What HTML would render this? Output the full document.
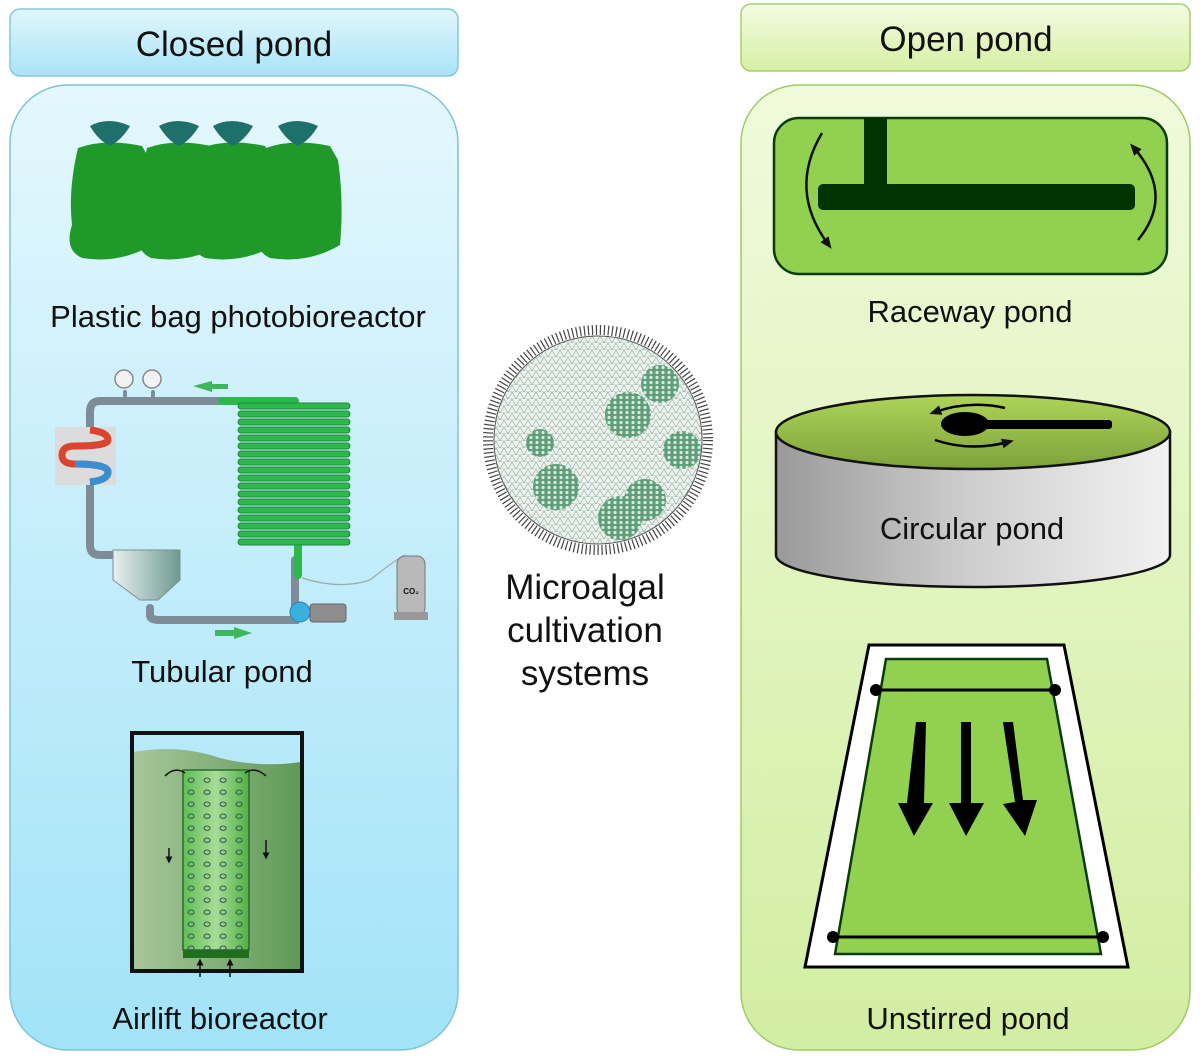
<!DOCTYPE html>
<html><head><meta charset="utf-8"><style>
html,body{margin:0;padding:0;background:#fff}
svg{display:block}
text{font-family:"Liberation Sans",sans-serif;fill:#111}
</style></head><body>
<svg width="1200" height="1061" viewBox="0 0 1200 1061" xmlns="http://www.w3.org/2000/svg">
<defs>
<linearGradient id="bh" x1="0" y1="0" x2="0" y2="1"><stop offset="0" stop-color="#e2f6fc"/><stop offset="1" stop-color="#a9e4f6"/></linearGradient>
<linearGradient id="bp" x1="0" y1="0" x2="0" y2="1"><stop offset="0" stop-color="#e4f7fd"/><stop offset="1" stop-color="#a2e3f8"/></linearGradient>
<linearGradient id="gh" x1="0" y1="0" x2="0" y2="1"><stop offset="0" stop-color="#f4fbe2"/><stop offset="1" stop-color="#d6f0a4"/></linearGradient>
<linearGradient id="gp" x1="0" y1="0" x2="0" y2="1"><stop offset="0" stop-color="#f0fadc"/><stop offset="1" stop-color="#d2eea2"/></linearGradient>
<linearGradient id="cyl" x1="0" y1="0" x2="1" y2="0"><stop offset="0" stop-color="#9a9a9a"/><stop offset="0.5" stop-color="#cfcfcf"/><stop offset="1" stop-color="#f2f2f2"/></linearGradient>
<linearGradient id="top" x1="0" y1="0" x2="0" y2="1"><stop offset="0" stop-color="#aed45a"/><stop offset="1" stop-color="#7ea23a"/></linearGradient>
<linearGradient id="air" x1="0" y1="0" x2="1" y2="0"><stop offset="0" stop-color="#a8c69a"/><stop offset="1" stop-color="#5e9a56"/></linearGradient>
<linearGradient id="riser" x1="0" y1="0" x2="1" y2="0"><stop offset="0" stop-color="#5fbf55"/><stop offset="0.5" stop-color="#a8dc96"/><stop offset="1" stop-color="#4fb045"/></linearGradient>
<linearGradient id="tank" x1="0" y1="0" x2="1" y2="0"><stop offset="0" stop-color="#e8f0ee"/><stop offset="1" stop-color="#6e9a92"/></linearGradient>
<pattern id="cells" width="8" height="7" patternUnits="userSpaceOnUse"><rect width="8" height="7" fill="#eef2ef"/><path d="M0 0 L4 7 L8 0 M0 7 L8 7" stroke="#8aa89a" stroke-width="0.6" fill="none"/></pattern>
<pattern id="cells2" width="6" height="5" patternUnits="userSpaceOnUse"><rect width="6" height="5" fill="#5f9e7a"/><circle cx="3" cy="2.5" r="1.6" fill="#d8eadc"/></pattern>
<marker id="ah" markerWidth="12" markerHeight="12" refX="6" refY="6" orient="auto" markerUnits="userSpaceOnUse"><path d="M0 1 L12 6 L0 11 Z" fill="#111"/></marker>
<marker id="as" markerWidth="7" markerHeight="7" refX="3.5" refY="3.5" orient="auto" markerUnits="userSpaceOnUse"><path d="M0 0 L7 3.5 L0 7 Z" fill="#111"/></marker>
</defs>

<!-- Left -->
<rect x="10" y="9" width="448" height="67" rx="10" fill="url(#bh)" stroke="#86c8d8" stroke-width="1.5"/>
<text x="234" y="56" font-size="35" text-anchor="middle">Closed pond</text>
<rect x="10" y="85" width="448" height="965" rx="58" fill="url(#bp)" stroke="#7ec3d6" stroke-width="1.5"/>

<!-- bags -->
<g>
<g id="bag">
<path d="M78 148 Q105 138 142 146 L150 160 Q156 200 152 245 Q120 264 82 258 Q64 250 72 225 Q68 190 78 148 Z" fill="#1f9a2a"/>
<path d="M90 126 Q108 116 130 126 Q122 140 110 146 Q98 140 90 126 Z" fill="#1f6f6a"/>
</g>
<use href="#bag" x="69"/>
<use href="#bag" x="123"/>
<use href="#bag" x="188"/>
</g>
<text x="238" y="327" font-size="31" text-anchor="middle">Plastic bag photobioreactor</text>

<!-- tubular -->
<g fill="none" stroke-linecap="round">
<path d="M222 401 L100 401 Q90 401 90 412 L90 430" stroke="#7d8c96" stroke-width="8"/>
<path d="M90 480 L90 545 Q90 555 100 555 L115 555" stroke="#7d8c96" stroke-width="8"/>
<path d="M150 608 L150 615 Q150 620 160 620 L295 620 L295 560" stroke="#7d8c96" stroke-width="8"/>
<path d="M222 401 L295 401" stroke="#2db84d" stroke-width="8"/>
<path d="M298 545 L298 575" stroke="#2db84d" stroke-width="8"/>
<path d="M125 392 L125 401 M153 392 L153 401" stroke="#7d8c96" stroke-width="4"/>
</g>
<circle cx="124" cy="379" r="9" fill="#f2f2f2" stroke="#888" stroke-width="1.5"/>
<circle cx="152" cy="379" r="9" fill="#f2f2f2" stroke="#888" stroke-width="1.5"/>
<path d="M193 386 L212 381 L212 384 L228 384 L228 389 L212 389 L212 392 Z" fill="#3cb85a"/>
<path d="M215 630 L234 630 L234 627 L252 633 L234 639 L234 636 L215 636 Z" fill="#3cb85a"/>
<rect x="55" y="427" width="61" height="58" fill="#dcdcdc"/>
<path d="M90 430 Q108 432 108 440 Q108 446 75 446 Q62 446 62 455 Q62 464 75 464 Q108 464 108 472 Q108 480 90 482" fill="none" stroke="#d9452e" stroke-width="7"/>
<path d="M75 464 Q108 464 108 472 Q108 480 90 482" fill="none" stroke="#3a8fd0" stroke-width="7"/>
<path d="M113 550 L180 550 L180 580 L158 600 L140 600 L113 580 Z" fill="url(#tank)" stroke="#7d8c96"/>
<g fill="#2db84d" stroke="#1b8a35" stroke-width="1">
<rect x="238" y="403" width="112" height="6" rx="3"/><rect x="238" y="411" width="112" height="6" rx="3"/><rect x="238" y="419" width="112" height="6" rx="3"/><rect x="238" y="427" width="112" height="6" rx="3"/><rect x="238" y="435" width="112" height="6" rx="3"/><rect x="238" y="443" width="112" height="6" rx="3"/><rect x="238" y="451" width="112" height="6" rx="3"/><rect x="238" y="459" width="112" height="6" rx="3"/><rect x="238" y="467" width="112" height="6" rx="3"/><rect x="238" y="475" width="112" height="6" rx="3"/><rect x="238" y="483" width="112" height="6" rx="3"/><rect x="238" y="491" width="112" height="6" rx="3"/><rect x="238" y="499" width="112" height="6" rx="3"/><rect x="238" y="507" width="112" height="6" rx="3"/><rect x="238" y="515" width="112" height="6" rx="3"/><rect x="238" y="523" width="112" height="6" rx="3"/><rect x="238" y="531" width="112" height="6" rx="3"/><rect x="238" y="539" width="112" height="6" rx="3"/>
</g>
<circle cx="300" cy="612" r="10" fill="#3ab0e0" stroke="#2a7fb0"/>
<rect x="310" y="604" width="36" height="18" rx="3" fill="#8d8d8d" stroke="#666"/>
<path d="M302 578 Q340 590 370 580 Q395 560 405 555" fill="none" stroke="#9aa" stroke-width="1.2"/>
<rect x="397" y="556" width="28" height="60" rx="8" fill="#b9b9b9" stroke="#777"/>
<rect x="394" y="612" width="34" height="8" fill="#999"/>
<text x="411" y="594" font-size="8" text-anchor="middle" font-weight="bold">CO₂</text>
<text x="222" y="682" font-size="31" text-anchor="middle">Tubular pond</text>

<!-- airlift -->
<path d="M133 752 Q180 744 220 758 Q260 768 301 762 L301 970 L133 970 Z" fill="url(#air)"/>
<rect x="183" y="770" width="66" height="180" fill="url(#riser)" stroke="#2c6a2c" stroke-width="1.5"/>
<rect x="183" y="950" width="66" height="8" fill="#1f6f1f"/>
<g fill="none" stroke="#355" stroke-width="1">
<path id="row" d="M191 778 a3 2.2 0 1 0 0.1 0 M207 778 a3 2.2 0 1 0 0.1 0 M223 778 a3 2.2 0 1 0 0.1 0 M239 778 a3 2.2 0 1 0 0.1 0"/>
<use href="#row" y="12"/><use href="#row" y="24"/><use href="#row" y="36"/><use href="#row" y="48"/><use href="#row" y="60"/><use href="#row" y="72"/><use href="#row" y="84"/><use href="#row" y="96"/><use href="#row" y="108"/><use href="#row" y="120"/><use href="#row" y="132"/><use href="#row" y="144"/><use href="#row" y="156"/><use href="#row" y="168"/>
</g>
<g stroke="#111" stroke-width="1.5" fill="none">
<path d="M169 848 L169 860" marker-end="url(#as)"/><path d="M266 840 L266 856" marker-end="url(#as)"/>
<path d="M200 977 L200 962" marker-end="url(#as)"/><path d="M230 977 L230 962" marker-end="url(#as)"/>
<path d="M185 773 Q175 766 165 776"/><path d="M245 773 Q255 766 266 776"/>
</g>
<rect x="132" y="733" width="170" height="238" fill="none" stroke="#111" stroke-width="4"/>
<text x="220" y="1029" font-size="31" text-anchor="middle">Airlift bioreactor</text>

<!-- center -->
<circle cx="598" cy="440" r="110" fill="none" stroke="#444" stroke-width="10" stroke-dasharray="1.2 2.8"/>
<circle cx="598" cy="440" r="104" fill="url(#cells)" stroke="#555" stroke-width="1"/>
<g fill="url(#cells2)">
<circle cx="660" cy="384" r="19"/><circle cx="628" cy="415" r="23"/><circle cx="540" cy="443" r="14"/><circle cx="682" cy="450" r="19"/><circle cx="556" cy="487" r="23"/><circle cx="645" cy="500" r="21"/><circle cx="620" cy="518" r="22"/>
</g>
<text x="585" y="599" font-size="35" text-anchor="middle">Microalgal</text>
<text x="585" y="642" font-size="35" text-anchor="middle">cultivation</text>
<text x="585" y="685" font-size="35" text-anchor="middle">systems</text>

<!-- Right -->
<rect x="741" y="4" width="449" height="67" rx="10" fill="url(#gh)" stroke="#a8cf6e" stroke-width="1.5"/>
<text x="966" y="51" font-size="35" text-anchor="middle">Open pond</text>
<rect x="741" y="85" width="449" height="965" rx="58" fill="url(#gp)" stroke="#9ccc62" stroke-width="1.5"/>

<rect x="774" y="118" width="393" height="156" rx="25" fill="#92d050" stroke="#0b3b0b" stroke-width="2.5"/>
<rect x="818" y="184" width="317" height="26" rx="5" fill="#003300"/>
<rect x="864" y="118" width="23" height="70" fill="#003300"/>
<g fill="none" stroke="#111" stroke-width="2.5">
<path d="M822 133 Q788 190 828 244" marker-end="url(#ah)"/>
<path d="M1138 240 Q1175 195 1134 148" marker-end="url(#ah)"/>
</g>
<text x="970" y="322" font-size="31" text-anchor="middle">Raceway pond</text>

<path d="M776 432 L776 555 A197 32 0 0 0 1170 555 L1170 432 Z" fill="url(#cyl)" stroke="#111" stroke-width="2.5"/>
<ellipse cx="973" cy="432" rx="197" ry="37" fill="url(#top)" stroke="#111" stroke-width="2.5"/>
<ellipse cx="965" cy="424" rx="24" ry="12" fill="#000"/>
<rect x="970" y="420" width="142" height="9" rx="3" fill="#000"/>
<g fill="none" stroke="#000" stroke-width="2.5">
<path d="M1005 408 Q970 400 935 412" marker-end="url(#ah)"/>
<path d="M935 440 Q970 452 1008 442" marker-end="url(#ah)"/>
</g>
<text x="972" y="539" font-size="31" text-anchor="middle">Circular pond</text>

<path d="M869 645 L1064 645 L1128 967 L805 967 Z" fill="#fff" stroke="#000" stroke-width="3"/>
<path d="M886 659 L1047 659 L1101 954 L835 954 Z" fill="#92d050" stroke="#0b3b0b" stroke-width="2.5"/>
<path d="M876 690 L1055 690 M833 937 L1103 937" stroke="#000" stroke-width="3"/>
<g fill="#000"><circle cx="876" cy="690" r="6"/><circle cx="1055" cy="690" r="6"/><circle cx="833" cy="937" r="6"/><circle cx="1103" cy="937" r="6"/></g>
<g fill="#000">
<path d="M916 722 L926 722 L924 803 L933 803 L914 836 L898 803 L907 803 Z"/>
<path d="M961 722 L971 722 L971 803 L984 803 L966 836 L949 803 L961 803 Z"/>
<path d="M1003 722 L1013 722 L1023 800 L1037 800 L1025 836 L1003 804 L1015 802 Z"/>
</g>
<text x="968" y="1029" font-size="31" text-anchor="middle">Unstirred pond</text>
</svg>
</body></html>
